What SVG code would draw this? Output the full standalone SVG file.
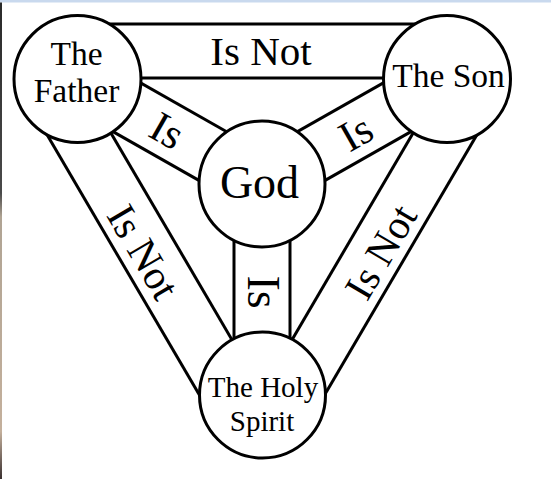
<svg xmlns="http://www.w3.org/2000/svg" width="551" height="479" viewBox="0 0 551 479">
<style>
.ln{stroke:#000;stroke-width:3;fill:none;stroke-linecap:butt}
.nd{fill:#fff;stroke:#000;stroke-width:3}
text{font-family:"Liberation Serif","Times New Roman",serif;fill:#000;text-anchor:middle}
.lbl{font-size:41px}
</style>
<defs>
<linearGradient id="edge" x1="0" y1="0" x2="0" y2="1">
<stop offset="0" stop-color="#2a2a2a"/>
<stop offset="0.4" stop-color="#4a4a4a"/>
<stop offset="0.45" stop-color="#b0a494"/>
<stop offset="0.9" stop-color="#c4b09c"/>
<stop offset="1" stop-color="#3a3030"/>
</linearGradient>
</defs>
<rect x="0" y="0" width="551" height="479" fill="#fff"/>
<rect x="0" y="0" width="551" height="2.5" fill="#c9d9ee"/>
<rect x="0" y="2.5" width="2" height="476.5" fill="url(#edge)"/>

<g id="connectors">
  <!-- Father - Son (outer band) -->
  <line class="ln" x1="77" y1="24" x2="447" y2="24"/>
  <line class="ln" x1="77" y1="78" x2="447" y2="78"/>
  <!-- Father - Holy Spirit -->
  <line class="ln" x1="30.4" y1="106.3" x2="215.4" y2="422.3"/>
  <line class="ln" x1="78.7" y1="78" x2="263.7" y2="394"/>
  <!-- Son - Holy Spirit -->
  <line class="ln" x1="493.6" y1="106.3" x2="308.6" y2="422.3"/>
  <line class="ln" x1="445.3" y1="78" x2="260.3" y2="394"/>
  <!-- Father - God -->
  <line class="ln" x1="90.8" y1="54.6" x2="275.8" y2="159.6"/>
  <line class="ln" x1="63.2" y1="103.4" x2="248.2" y2="208.4"/>
  <!-- Son - God -->
  <line class="ln" x1="433.2" y1="54.6" x2="248.2" y2="159.6"/>
  <line class="ln" x1="460.8" y1="103.4" x2="275.8" y2="208.4"/>
  <!-- God - Holy Spirit -->
  <line class="ln" x1="234" y1="184" x2="234" y2="395"/>
  <line class="ln" x1="290" y1="184" x2="290" y2="395"/>
  <!-- labels -->
  <text class="lbl" x="261" y="65">Is Not</text>
  <text class="lbl" transform="translate(143,252) rotate(59.6)" y="13.5">Is Not</text>
  <text class="lbl" transform="translate(381,252) rotate(-59.6)" y="13.5">Is Not</text>
  <text style="font-size:43px" transform="translate(167,131) rotate(29.6)" y="14">Is</text>
  <text style="font-size:43px" transform="translate(356,133) rotate(-29.6)" y="14">Is</text>
  <text style="font-size:46px" transform="translate(263,292) rotate(90)" y="15">Is</text>
</g>

<g id="father">
  <circle class="nd" cx="77.5" cy="79" r="63.5"/>
  <text x="76.5" y="65" style="font-size:33.5px">The</text>
  <text x="76.5" y="102" style="font-size:33.5px">Father</text>
</g>
<g id="son">
  <circle class="nd" cx="447" cy="79" r="63.5"/>
  <text x="448.5" y="87" style="font-size:33.5px">The Son</text>
</g>
<g id="god">
  <circle class="nd" cx="262" cy="184" r="63"/>
  <text x="259.5" y="198" style="font-size:46px">God</text>
</g>
<g id="holy-spirit">
  <circle class="nd" cx="262.5" cy="395" r="63"/>
  <text x="263" y="397" style="font-size:29px">The Holy</text>
  <text x="262" y="431" style="font-size:29px">Spirit</text>
</g>
</svg>
